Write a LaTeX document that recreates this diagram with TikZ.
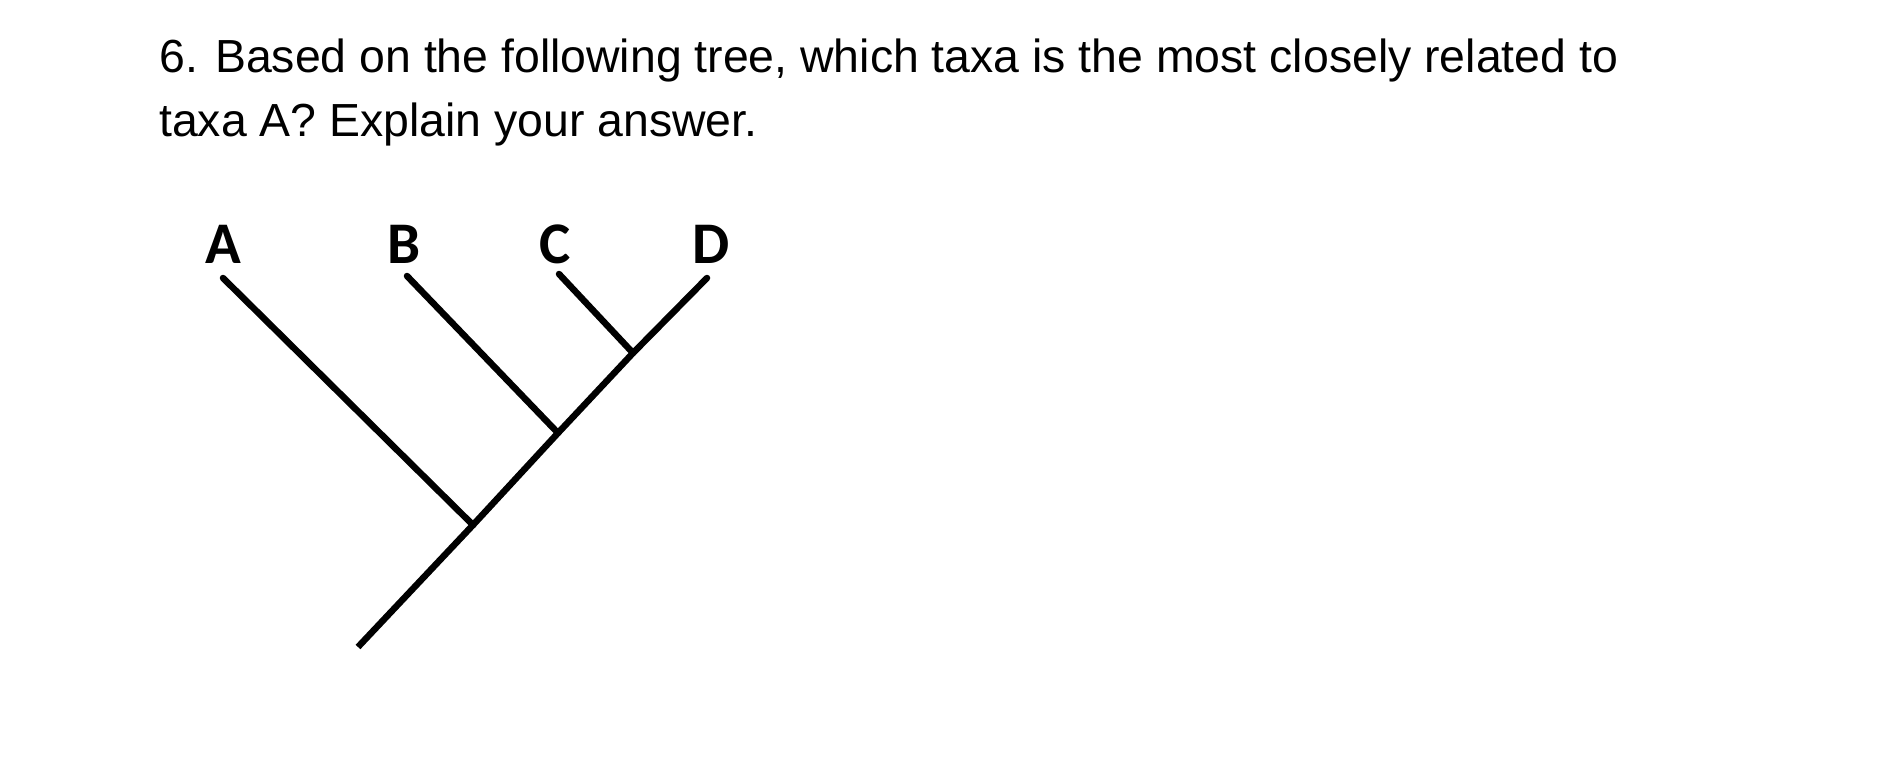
\documentclass[tikz,border=0pt]{standalone}
\usepackage{fontspec}
\setmainfont{Liberation Sans}
\newfontfamily\labelfont{Carlito}
\tikzset{
  qtext/.style={anchor=base west, inner sep=0pt, font=\fontsize{46.4}{56}\selectfont},
  taxon/.style={anchor=base, inner sep=0pt, font=\labelfont\bfseries\fontsize{59}{60}\selectfont},
  branch/.style={line width=6.5pt, line cap=round, black}
}
\begin{document}
\begin{tikzpicture}[x=1pt,y=-1pt]
\useasboundingbox[fill=white] (0,0) rectangle (1900,762);
\node[qtext] (q1) at (159,73) {6. Based on the following tree, which taxa is the most closely related to};
\node[qtext] (q2) at (159,137) {taxa A? Explain your answer.};
\node[taxon] (la) at (223,263) {A};
\node[taxon] (lb) at (404,263) {B};
\node[taxon] (lc) at (555,263) {C};
\node[taxon] (ld) at (711,263) {D};
\coordinate (ta) at (223,278);
\coordinate (tb) at (407,276);
\coordinate (tc) at (559,274);
\coordinate (td) at (707,278);
\coordinate (ncd) at (633,353);
\coordinate (nb) at (558,433);
\coordinate (na) at (473,525);
\coordinate (root) at (358,647);
\draw[branch] (na) -- (nb) -- (ncd) -- (td);
\draw[branch, line cap=butt] (root) -- (na);
\draw[branch] (ta) -- (na);
\draw[branch] (tb) -- (nb);
\draw[branch] (tc) -- (ncd);
\end{tikzpicture}
\end{document}
